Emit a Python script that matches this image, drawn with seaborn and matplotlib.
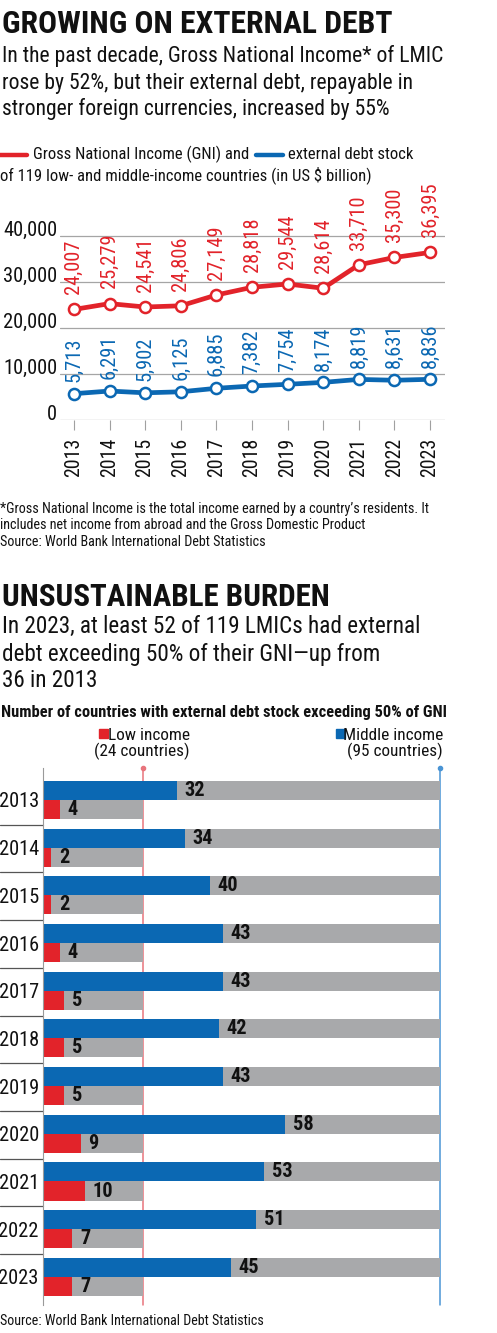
import matplotlib
matplotlib.use('Agg')
import matplotlib.pyplot as plt
from matplotlib import font_manager as fm
from matplotlib.textpath import TextPath
from matplotlib.patches import Rectangle
from matplotlib.lines import Line2D
import numpy as np
import pandas as pd
import seaborn as sns

# Data
years = [2013, 2014, 2015, 2016, 2017, 2018, 2019, 2020, 2021, 2022, 2023]
gni = [24007, 25279, 24541, 24806, 27149, 28818, 29544, 28614, 33710, 35300, 36395]
debt = [5713, 6291, 5902, 6125, 6885, 7382, 7754, 8174, 8819, 8631, 8836]
y_ticks = [0, 10000, 20000, 30000, 40000]
middle_count = [32, 34, 40, 43, 43, 42, 43, 58, 53, 51, 45]
low_count = [4, 2, 2, 4, 5, 5, 5, 9, 10, 7, 7]
low_total = 24
middle_total = 95

RED = '#e2232a'
BLUE = '#0b68b3'
GREY = '#a8a9ab'
INK = '#111111'

W, H = 497, 1333
DPI = 100


def _num(v, table, default):
    if isinstance(v, (int, float)):
        return v
    return table.get(v, default)


def pick_font(weight):
    """Prefer a condensed sans face; fall back to DejaVu Sans."""
    prefs = ['Roboto Condensed', 'Liberation Sans Narrow', 'Noto Sans',
             'Open Sans', 'DejaVu Sans', 'Roboto']
    found = []
    for f in fm.fontManager.ttflist:
        if f.style != 'normal':
            continue
        stretch = _num(f.stretch, fm.stretch_dict, 500)
        if f.name in prefs[:2]:
            rank = prefs.index(f.name)
        elif f.name in prefs and stretch <= 400:
            rank = prefs.index(f.name)
        else:
            continue
        found.append((rank, abs(_num(f.weight, fm.weight_dict, 400) - weight), f.fname))
    if not found:
        return fm.FontProperties(family='DejaVu Sans', weight=weight)
    found.sort()
    return fm.FontProperties(fname=found[0][2])


REG = pick_font(400)
BOLD = pick_font(700)


def sized(fp, size):
    p = fp.copy()
    p.set_size(size)
    return p


def text_px(s, fp, size):
    w = TextPath((0, 0), s, size=size, prop=sized(fp, size)).get_extents().width
    return w * DPI / 72


def size_for(s, fp, width_px):
    """Font size (pt) that makes string s width_px wide."""
    return 10 * width_px / text_px(s, fp, 10)


fig = plt.figure(figsize=(W / DPI, H / DPI), dpi=DPI)
sns.set_style('white')


def ftext(x, y, s, fp, size, **kw):
    kw.setdefault('va', 'baseline')
    kw.setdefault('color', INK)
    return fig.text(x / W, 1 - y / H, s, fontproperties=sized(fp, size), **kw)


# ---------------- Top section: GNI vs external debt ----------------
title_sz = size_for('GROWING ON EXTERNAL DEBT', BOLD, 388)
ftext(2, 33, 'GROWING ON EXTERNAL DEBT', BOLD, title_sz)

sub_lines = ['In the past decade, Gross National Income* of LMIC',
             'rose by 52%, but their external debt, repayable in',
             'stronger foreign currencies, increased by 55%']
sub_sz = size_for(sub_lines[0], REG, 440)
for line, base in zip(sub_lines, [62, 89, 115]):
    ftext(2, base, line, REG, sub_sz)

leg1a = 'Gross National Income (GNI) and'
leg1b = 'external debt stock'
leg2 = 'of 119 low- and middle-income countries (in US $ billion)'
leg_sz = min(size_for(leg2, REG, 378), size_for(leg1a, REG, 214))
end_a = 33 + text_px(leg1a, REG, leg_sz)
fig.add_artist(Line2D([0, 27 / W], [1 - 155 / H] * 2, color=RED, lw=3.2))
ftext(33, 159, leg1a, REG, leg_sz)
fig.add_artist(Line2D([(end_a + 9) / W, (end_a + 36) / W], [1 - 155 / H] * 2,
                      color=BLUE, lw=3.2))
ftext(end_a + 41, 159, leg1b, REG, leg_sz)
ftext(0, 180, leg2, REG, leg_sz)

ax1 = fig.add_axes([60 / W, 1 - 420 / H, 385 / W, 221 / H])
sns.lineplot(x=years, y=gni, ax=ax1, color=RED, lw=3.4, marker='o', ms=8,
             mfc='white', mec=RED, mew=1.8, zorder=3)
sns.lineplot(x=years, y=debt, ax=ax1, color=BLUE, lw=3.4, marker='o', ms=8,
             mfc='white', mec=BLUE, mew=1.8, zorder=3)
ax1.set_xlim(2012.61, 2023.42)
ax1.set_ylim(0, 48000)
for s in ax1.spines.values():
    s.set_visible(False)
ax1.set_yticks(y_ticks)
tick_sz = size_for('40,000', REG, 53)
ax1.set_yticklabels([f'{v:,}' for v in y_ticks], fontproperties=sized(REG, tick_sz),
                    va='baseline', color=INK)
ax1.set_xticks(years)
ax1.set_xticklabels([str(y) for y in years], rotation=90,
                    fontproperties=sized(REG, size_for('2013', REG, 37)), color=INK)
ax1.tick_params(axis='y', length=0, pad=2)
ax1.tick_params(axis='x', length=7, width=0.8, color='#a0a0a0', pad=6, bottom=True)
ax1.yaxis.grid(True, color='#a5a5a5', lw=0.9)
ax1.xaxis.grid(False)
ax1.set_axisbelow(True)
ax1.set_xlabel('')
ax1.set_ylabel('')

lab_fp = sized(REG, tick_sz)
for x, v in zip(years, gni):
    ax1.annotate(f'{v:,}', (x, v), xytext=(0, 11), textcoords='offset points',
                 rotation=90, ha='center', va='bottom', color=RED,
                 fontproperties=lab_fp, annotation_clip=False)
for x, v in zip(years, debt):
    ax1.annotate(f'{v:,}', (x, v), xytext=(0, 8.5), textcoords='offset points',
                 rotation=90, ha='center', va='bottom', color=BLUE,
                 fontproperties=lab_fp, annotation_clip=False)

foot = ['*Gross National Income is the total income earned by a country\u2019s residents. It',
        'includes net income from abroad and the Gross Domestic Product',
        'Source: World Bank International Debt Statistics']
foot_sz = size_for(foot[0], REG, 431)
for line, base in zip(foot, [513, 529, 546]):
    ftext(0, base, line, REG, foot_sz)

# ---------------- Bottom section: countries above 50% of GNI ----------------
ftext(2, 606, 'UNSUSTAINABLE BURDEN', BOLD, size_for('UNSUSTAINABLE BURDEN', BOLD, 325))
sub2 = ['In 2023, at least 52 of 119 LMICs had external',
        'debt exceeding 50% of their GNI\u2014up from',
        '36 in 2013']
sub2_sz = size_for(sub2[0], REG, 416)
for line, base in zip(sub2, [633, 661, 687]):
    ftext(2, base, line, REG, sub2_sz)

bar_title = 'Number of countries with external debt stock exceeding 50% of GNI'
ftext(1, 717, bar_title, BOLD, size_for(bar_title, BOLD, 444))

bleg_sz = size_for('(24 countries)', REG, 93)
fig.add_artist(Rectangle((99 / W, 1 - 738 / H), 9 / W, 9 / H, color=RED,
                         transform=fig.transFigure))
ftext(190, 740, 'Low income', REG, bleg_sz, ha='right')
ftext(190, 756, '(24 countries)', REG, bleg_sz, ha='right')
fig.add_artist(Rectangle((336 / W, 1 - 738 / H), 9 / W, 9 / H, color=BLUE,
                         transform=fig.transFigure))
ftext(443, 740, 'Middle income', REG, bleg_sz, ha='right')
ftext(443, 756, '(95 countries)', REG, bleg_sz, ha='right')

year_lbl = [str(y) for y in years]
groups = ['Middle income', 'Low income']
df = pd.DataFrame({
    'year': year_lbl * 2,
    'group': [groups[0]] * len(years) + [groups[1]] * len(years),
    'count': middle_count + low_count,
    'total': [middle_total] * len(years) + [low_total] * len(years),
})

ax2 = fig.add_axes([43 / W, 1 - 1305 / H, 397 / W, 537 / H])
sns.barplot(data=df, x='total', y='year', hue='group', hue_order=groups,
            palette=[GREY, GREY], orient='h', width=0.8, saturation=1,
            linewidth=0, legend=False, ax=ax2)
sns.barplot(data=df, x='count', y='year', hue='group', hue_order=groups,
            palette=[BLUE, RED], orient='h', width=0.8, saturation=1,
            linewidth=0, legend=False, ax=ax2)
ax2.set_xlim(0, middle_total)
ax2.set_ylim(len(years) - 1 + 0.59, -0.67)
for k, s in ax2.spines.items():
    s.set_visible(k == 'left')
ax2.spines['left'].set_color('#9a9a9a')
ax2.spines['left'].set_linewidth(0.8)
ax2.set_xticks([])
ax2.set_xlabel('')
ax2.set_ylabel('')
ax2.tick_params(axis='y', length=0, pad=3)
yr_fp = sized(REG, size_for('2013', REG, 38))
for lab in ax2.get_yticklabels():
    lab.set_fontproperties(yr_fp)
    lab.set_color(INK)

# reference lines at the group totals
ax2.axvline(low_total, color='#e8747c', lw=1.1, zorder=0.5, clip_on=False)
ax2.axvline(middle_total, color='#4a94d4', lw=1.1, zorder=0.5, clip_on=False)
ax2.plot([low_total], [-0.67], 'o', color='#e8747c', ms=3, clip_on=False)
ax2.plot([middle_total], [-0.67], 'o', color='#4a94d4', ms=3, clip_on=False)

# separators between years on the left
for i in range(len(years) - 1):
    ax2.plot([-43 / 397, 0], [i + 0.52] * 2, transform=ax2.get_yaxis_transform(),
             color='#555555', lw=0.9, clip_on=False)

val_fp = sized(BOLD, size_for('32', BOLD, 19))
for i, (m, lo) in enumerate(zip(middle_count, low_count)):
    ax2.annotate(str(m), (m, i - 0.2), xytext=(5.5, 0), textcoords='offset points',
                 ha='left', va='center', color=INK, fontproperties=val_fp)
    ax2.annotate(str(lo), (lo, i + 0.2), xytext=(5.5, 0), textcoords='offset points',
                 ha='left', va='center', color=INK, fontproperties=val_fp)

ftext(0, 1325, 'Source: World Bank International Debt Statistics', REG,
      size_for('Source: World Bank International Debt Statistics', REG, 264))

fig.savefig('out.png', dpi=DPI)
plt.close(fig)
